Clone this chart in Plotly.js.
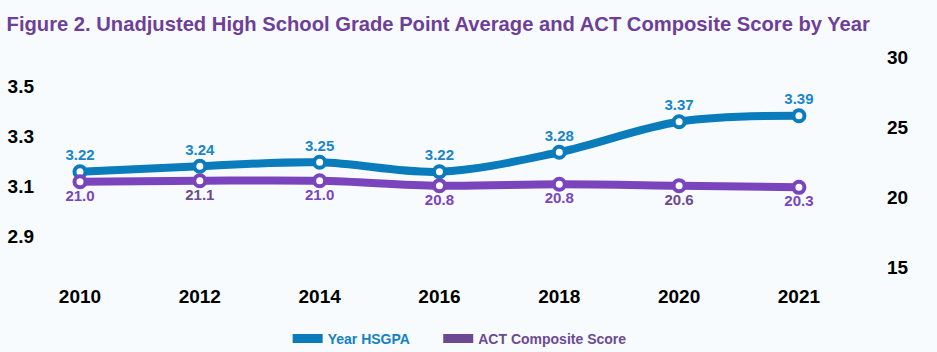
<!DOCTYPE html>
<html>
<head>
<meta charset="utf-8">
<script src="https://cdn.plot.ly/plotly-3.0.1.min.js"></script>
<style>html,body{margin:0;padding:0;background:#f7fbfe;}#chart{width:937px;height:352px;}</style>
</head>
<body>
<div id="chart"></div>
<script>
// Data
const years = ['2010', '2012', '2014', '2016', '2018', '2020', '2021'];
// plotted positions (as drawn against the axes)
const hsgpa = [3.157, 3.179, 3.195, 3.157, 3.235, 3.357, 3.381];
const hsgpaLabels = ['3.22', '3.24', '3.25', '3.22', '3.28', '3.37', '3.39'];
const act = [21.09, 21.16, 21.16, 20.81, 20.91, 20.81, 20.69];
const actLabels = ['21.0', '21.1', '21.0', '20.8', '20.8', '20.6', '20.3'];
const leftTicks = [2.9, 3.1, 3.3, 3.5];
const leftTickText = ['2.9', '3.1', '3.3', '3.5'];
const rightTicks = [15, 20, 25, 30];

const BLUE = '#0a7bbb';
const PURPLE = '#7a45bc';
const FONT = 'Liberation Sans, Arial, sans-serif';

const actLabelColors = ['#7b45bd', '#6b4a8e', '#7b45bd', '#7b45bd', '#7b45bd', '#6b4a8e', '#7b45bd'];
const PAD = '&#160;&#160;&#160;&#160;&#160;&#160;';

const traces = [
  {
    x: years, y: act, yaxis: 'y2', type: 'scatter', mode: 'lines+markers+text',
    line: {color: PURPLE, width: 8, shape: 'spline', smoothing: 1},
    marker: {size: 11, color: '#ffffff', line: {color: PURPLE, width: 4}},
    text: actLabels, textposition: 'bottom center',
    textfont: {family: FONT, size: 15, weight: 'bold', color: actLabelColors},
    showlegend: false, hoverinfo: 'skip', cliponaxis: false
  },
  {
    x: years, y: hsgpa, yaxis: 'y', type: 'scatter', mode: 'lines+markers+text',
    line: {color: BLUE, width: 8, shape: 'spline', smoothing: 1},
    marker: {size: 11, color: '#ffffff', line: {color: BLUE, width: 4}},
    text: hsgpaLabels, textposition: 'top center',
    textfont: {family: FONT, size: 15, weight: 'bold', color: '#1a86c8'},
    showlegend: false, hoverinfo: 'skip', cliponaxis: false
  },
  {
    x: [null], y: [null], type: 'scatter', mode: 'lines',
    line: {color: BLUE, width: 9},
    name: '<span style="color:#1580c2">Year HSGPA</span>' + PAD, showlegend: true
  },
  {
    x: [null], y: [null], type: 'scatter', mode: 'lines',
    line: {color: '#6b4a93', width: 9},
    name: '<span style="color:#6b4a93">ACT Composite Score</span>', showlegend: true
  }
];

const layout = {
  width: 937, height: 352,
  paper_bgcolor: '#f7fbfe', plot_bgcolor: '#f7fbfe',
  margin: {l: 45, r: 67, t: 57, b: 85},
  font: {family: FONT, color: '#000000'},
  title: {
    text: 'Figure 2. Unadjusted High School Grade Point Average and ACT Composite Score by Year',
    font: {family: FONT, size: 20.2, weight: 'bold', color: '#6f3f98'},
    xref: 'container', x: 0.007, xanchor: 'left',
    yref: 'container', y: 0.931, yanchor: 'middle'
  },
  xaxis: {
    type: 'category', range: [-0.292, 6.593],
    showgrid: false, zeroline: false, showline: false, ticks: '',
    tickfont: {family: FONT, size: 19, weight: 'bold', color: '#000000'},
    ticklabelstandoff: 16, fixedrange: true
  },
  yaxis: {
    range: [2.776, 3.616], tickvals: leftTicks, ticktext: leftTickText,
    showgrid: false, zeroline: false, showline: false, ticks: '',
    tickfont: {family: FONT, size: 19, weight: 'bold', color: '#000000'},
    ticklabelstandoff: 10
  },
  yaxis2: {
    range: [15, 30], tickvals: rightTicks, overlaying: 'y', side: 'right',
    showgrid: false, zeroline: false, showline: false, ticks: '',
    tickfont: {family: FONT, size: 19, weight: 'bold', color: '#000000'},
    ticklabelstandoff: 16
  },
  legend: {
    orientation: 'h', xref: 'container', x: 0.307, xanchor: 'left',
    yref: 'container', y: 0.037, yanchor: 'middle',
    font: {family: FONT, size: 14, weight: 'bold'},
    bgcolor: 'rgba(0,0,0,0)', itemwidth: 30
  },
  showlegend: true
};

Plotly.newPlot('chart', traces, layout, {displayModeBar: false, staticPlot: true});
</script>
</body>
</html>
